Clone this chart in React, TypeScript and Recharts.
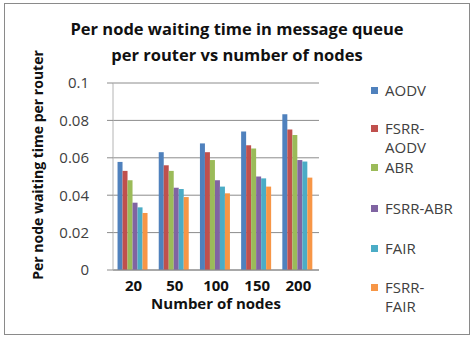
import { BarChart, Bar, XAxis, YAxis, CartesianGrid, Label } from 'recharts';

const nodeCounts = ['20', '50', '100', '150', '200'];
const aodv = [0.0578, 0.063, 0.0677, 0.074, 0.0833];
const fsrrAodv = [0.053, 0.056, 0.063, 0.0667, 0.0752];
const abr = [0.048, 0.053, 0.0588, 0.065, 0.0722];
const fsrrAbr = [0.036, 0.044, 0.048, 0.05, 0.0588];
const fair = [0.0335, 0.0433, 0.0446, 0.049, 0.058];
const fsrrFair = [0.0305, 0.039, 0.041, 0.0446, 0.0494];
const yTicks = [0, 0.02, 0.04, 0.06, 0.08, 0.1];

const series = [
  { key: 'aodv', name: 'AODV', color: '#4F81BD', values: aodv },
  { key: 'fsrrAodv', name: 'FSRR-AODV', color: '#C0504D', values: fsrrAodv },
  { key: 'abr', name: 'ABR', color: '#9BBB59', values: abr },
  { key: 'fsrrAbr', name: 'FSRR-ABR', color: '#8064A2', values: fsrrAbr },
  { key: 'fair', name: 'FAIR', color: '#4BACC6', values: fair },
  { key: 'fsrrFair', name: 'FSRR-FAIR', color: '#F79646', values: fsrrFair },
];

const data = nodeCounts.map((n, i) => {
  const row: Record<string, string | number> = { nodes: n };
  series.forEach((s) => (row[s.key] = s.values[i]));
  return row;
});

const FONT = '"Open Sans", sans-serif';

// long names wrap after the hyphen in the legend column
const legendLines: Record<string, string[]> = {
  'FSRR-AODV': ['FSRR-', 'AODV'],
  'FSRR-FAIR': ['FSRR-', 'FAIR'],
};
const legendRowHeights = [38, 39, 41, 40, 39, 40];

function SideLegend() {
  return (
    <div
      style={{
        position: 'absolute',
        left: 371,
        top: 81,
        fontFamily: FONT,
        fontSize: 15,
        color: '#404040',
        lineHeight: '19px',
      }}
    >
      {series.map((s, i) => {
        const lines = legendLines[s.name] || [s.name];
        return (
          <div key={s.key} style={{ position: 'relative', height: legendRowHeights[i] }}>
            <span
              style={{ position: 'absolute', left: 0, top: 6, width: 7, height: 7, background: s.color }}
            />
            <div style={{ marginLeft: 14 }}>
              {lines.map((l) => (
                <div key={l}>{l}</div>
              ))}
            </div>
          </div>
        );
      })}
    </div>
  );
}

export default function App() {
  return (
    <div style={{ position: 'relative', width: 474, height: 338, background: '#fff' }}>
      <style>{'body{margin:0}'}</style>
      <div
        style={{
          position: 'absolute',
          top: 16,
          left: 0,
          width: 474,
          textAlign: 'center',
          fontFamily: FONT,
          fontWeight: 700,
          fontSize: 16.5,
          lineHeight: '26px',
          color: '#111',
        }}
      >
        Per node waiting time in message queue
        <br />
        per router vs number of nodes
      </div>
      <div style={{ position: 'absolute', left: 0, top: 0 }}>
        <BarChart
          width={474}
          height={338}
          data={data}
          margin={{ top: 83, right: 155, bottom: 38, left: 0 }}
          barCategoryGap="11%"
          barGap={0}
        >
          <CartesianGrid vertical={false} stroke="#8c8c8c" strokeWidth={1} />
          <XAxis
            dataKey="nodes"
            stroke="#8c8c8c"
            tickLine={false}
            tick={{ fill: '#111', fontSize: 15, fontWeight: 700, fontFamily: FONT }}
            height={30}
            tickMargin={4}
          >
            <Label
              value="Number of nodes"
              position="insideBottom"
              offset={-9}
              style={{ fill: '#111', fontSize: 15, fontWeight: 700, fontFamily: FONT }}
            />
          </XAxis>
          <YAxis
            width={113}
            domain={[0, 0.1]}
            ticks={yTicks}
            interval={0}
            stroke="#b4b4b4"
            tickLine={{ stroke: '#8c8c8c' }}
            tickSize={6}
            tickMargin={18}
            tick={{ fill: '#404040', fontSize: 15, fontFamily: FONT }}
          >
            <Label
              content={() => (
                <text
                  transform="translate(43,165) rotate(-90)"
                  textAnchor="middle"
                  fill="#111"
                  fontSize={14}
                  fontWeight={700}
                  fontFamily={FONT}
                >
                  Per node waiting time per router
                </text>
              )}
            />
          </YAxis>
          {series.map((s) => (
            <Bar key={s.key} dataKey={s.key} name={s.name} fill={s.color} isAnimationActive={false} />
          ))}
        </BarChart>
      </div>
      <SideLegend />
      <div
        style={{
          position: 'absolute',
          left: 4,
          top: 3,
          width: 464,
          height: 330,
          border: '1.5px solid #8a8a8a',
          pointerEvents: 'none',
        }}
      />
    </div>
  );
}
